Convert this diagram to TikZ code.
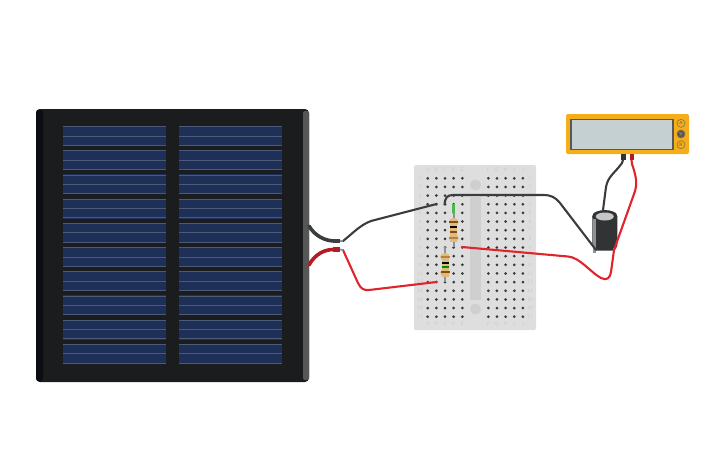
\documentclass[tikz,border=0pt]{standalone}
\usepackage{tikz}
\usetikzlibrary{positioning}
\definecolor{panelblack}{HTML}{1B1C1E}
\definecolor{paneledge}{HTML}{0C0D12}
\definecolor{panelside}{HTML}{555756}
\definecolor{cellblue}{HTML}{1F3058}
\definecolor{cellline}{HTML}{4C5A78}
\definecolor{boardgrey}{HTML}{DEDEDE}
\definecolor{stripgrey}{HTML}{CFCFCF}
\definecolor{labelgrey}{HTML}{CBCBCB}
\definecolor{holeblack}{HTML}{3A3A3A}
\definecolor{wirered}{HTML}{E0242B}
\definecolor{wireblack}{HTML}{3A3C3E}
\definecolor{cablered}{HTML}{B01E24}
\definecolor{meterorange}{HTML}{F5AE1A}
\definecolor{meterscreen}{HTML}{C5D0D3}
\definecolor{meterrim}{HTML}{55595B}
\definecolor{resbody}{HTML}{E0BC7C}
\definecolor{resbrown}{HTML}{8A4A12}
\definecolor{leadgrey}{HTML}{8E9296}
\tikzset{
  box/.style={rectangle, inner sep=0pt, draw=none},
  cell/.style={box, fill=cellblue, minimum width=103pt, minimum height=20pt},
  hole/.style={circle, fill=holeblack, inner sep=0pt, minimum size=3pt},
  boardtext/.style={font=\sffamily\fontsize{5}{5}\selectfont, text=labelgrey, inner sep=0pt},
  wire/.style={line width=2.1pt, line cap=round, line join=round},
  cable/.style={line width=3.6pt, line cap=round},
  lead/.style={line width=1.6pt, leadgrey},
  knob/.style={circle, draw=meterrim!70!meterorange, line width=0.6pt, minimum size=8pt, inner sep=0pt},
}
\begin{document}
\begin{tikzpicture}[x=1pt, y=-1pt]
  \useasboundingbox (0,0) rectangle (725,453);

  % solar panel
  \node[box, fill=panelblack, rounded corners=4pt, minimum width=273pt, minimum height=273pt] (panel) at (172.5,245.5) {};
  \fill[paneledge, rounded corners=3pt] (36,109.5) rectangle (43,381.5);
  \fill[panelside, rounded corners=2pt] (303,111) rectangle (309,380);
  \foreach \col in {114.5,230.5} {
    \foreach \row in {0,...,9} {
      \node[cell] (cell) at (\col,136+24.2*\row) {};
      \foreach \off in {-9.3,0,9.3}
        \draw[cellline, line width=1pt] ([yshift=\off pt]cell.west) -- ([yshift=\off pt]cell.east);
    }
  }

  % breadboard
  \node[box, fill=boardgrey, rounded corners=1.5pt, minimum width=122pt, minimum height=165pt] (board) at (475,247.5) {};
  \node[box, fill=stripgrey, minimum width=11pt, minimum height=103pt] (strip) at (475.5,248.5) {};
  \node[circle, fill=stripgrey, minimum size=11pt, inner sep=0pt] (nicktop) at (475.5,185) {};
  \node[circle, fill=stripgrey, minimum size=11pt, inner sep=0pt] (nickbot) at (475.5,309) {};
  \foreach \row in {1,...,17} {
    \foreach \col in {0,...,4} {
      \node[hole] (hl\col-\row) at (427.7+8.65*\col,169.65+8.65*\row) {};
      \node[hole] (hr\col-\row) at (488.3+8.65*\col,169.65+8.65*\row) {};
    }
    \node[boardtext] (numl\row) at (420,169.65+8.65*\row) {\row};
    \node[boardtext] (numr\row) at (530,169.65+8.65*\row) {\row};
  }
  \foreach \name [count=\i from 0] in {A,B,C,D,E} {
    \node[boardtext] (top\name) at (427.7+8.65*\i,170) {\name};
    \node[boardtext] (bot\name) at (427.7+8.65*\i,323.7) {\name};
  }
  \foreach \name [count=\i from 0] in {F,G,H,I,J} {
    \node[boardtext] (top\name) at (488.3+8.65*\i,170) {\name};
    \node[boardtext] (bot\name) at (488.3+8.65*\i,323.7) {\name};
  }

  % upper resistor
  \draw[lead] (453.7,217) -- (453.7,247);
  \draw[line width=3pt, green!60!black!70!white] (453.7,203.5) -- (453.7,213);
  \draw[lead] (453.7,213) -- (453.7,219);
  \node[box, fill=resbody, minimum width=7pt, minimum height=23pt] (res1) at (453.7,230) {};
  \fill[resbody] (453.7,222) ellipse (4.8pt and 4pt) (453.7,238) ellipse (4.8pt and 4pt);
  \fill[resbrown] (449.2,220.8) rectangle (458.2,222.8);
  \fill[black] (450.2,226.2) rectangle (457.2,228.2);
  \fill[resbrown] (450.2,230.8) rectangle (457.2,232.8);
  \fill[resbrown!50!resbody] (449.2,236.8) rectangle (458.2,238.8);

  % lower resistor
  \draw[lead] (445,246.5) -- (445,282);
  \node[box, fill=resbody, minimum width=7pt, minimum height=23pt] (res2) at (445,265) {};
  \fill[resbody] (445,257) ellipse (4.8pt and 4pt) (445,273) ellipse (4.8pt and 4pt);
  \fill[resbrown!50!resbody] (440.5,255.6) rectangle (449.5,257.6);
  \fill[black] (441.5,261.7) rectangle (448.5,263.7);
  \fill[green!55!black] (441.5,266.3) rectangle (448.5,268.3);
  \fill[resbrown] (440.5,271) rectangle (449.5,273);

  % multimeter
  \node[box, fill=meterorange, rounded corners=2pt, minimum width=123pt, minimum height=40pt] (meter) at (627.5,134) {};
  \node[box, fill=meterscreen, draw=meterrim, line width=1.8pt, minimum width=102pt, minimum height=30pt] (screen) at (621.7,134.5) {};
  \node[knob] (knobA) at (681,123.3) {};
  \node[knob, fill=meterrim] (knobV) at (681,134) {};
  \node[knob] (knobR) at (681,144.7) {};
  \node[font=\sffamily\fontsize{4.5}{4.5}\selectfont, text=meterrim, inner sep=0pt] at (knobA) {A};
  \node[font=\sffamily\fontsize{4.5}{4.5}\selectfont, text=meterorange, inner sep=0pt] at (knobV) {V};
  \node[font=\sffamily\fontsize{4.5}{4.5}\selectfont, text=meterrim, inner sep=0pt] at (knobR) {R};

  % capacitor
  \node[box, fill=wireblack!85!black, rounded corners=5pt, minimum width=25pt, minimum height=39pt] (cap) at (604.8,231) {};
  \fill[wireblack!85!black] (604.8,216.5) ellipse (12.5pt and 6.5pt);
  \fill[black!22] (604.8,216.5) ellipse (9pt and 4pt);
  \fill[leadgrey] (592.8,219) rectangle (596.3,253);
  \draw[lead] (613.5,248) -- (613.5,253);

  % connection points
  \coordinate (panelplus) at (309,265);
  \coordinate (panelminus) at (309,226);
  \coordinate (plugminus) at (343,241);
  \coordinate (plugplus) at (343,250);
  \coordinate (holeminus) at (436.5,204);
  \coordinate (holeplus) at (436.5,282);
  \coordinate (jumpstart) at (444.5,204.5);
  \coordinate (holeres) at (462,247);
  \coordinate (capneg) at (596,250);
  \coordinate (capneck) at (603,210);
  \coordinate (probeblack) at (623,160);
  \coordinate (probered) at (631.5,160);

  % wires
  \draw[wire, wireblack] (plugminus) .. controls (352,234) and (360,225) .. (371,221) -- (holeminus);
  \draw[wire, wirered] (plugplus) -- (358,283) .. controls (361,289) and (364,290.5) .. (369,290) -- (holeplus);
  \draw[wire, wireblack] (jumpstart) .. controls (445,198) and (447,195) .. (453,195) -- (543,195) .. controls (551,195) and (555,197) .. (560,203) -- (capneg);
  \draw[wire, wireblack] (capneck) -- (606,187) .. controls (608,176) and (615,173) .. (622,163) -- (probeblack);
  \draw[wire, wirered] (holeres) -- (568,256.5) .. controls (580,257.5) and (590,272) .. (601,278) .. controls (607,281) and (610,278) .. (611,272) -- (614,250) -- (634,194) .. controls (638,184) and (636,176) .. (632,164) -- (probered);

  % plugs and panel cables
  \draw[cable, wireblack] (panelminus) .. controls (315,236) and (325,241) .. (335,241);
  \draw[cable, cablered] (panelplus) .. controls (315,254) and (325,249) .. (335,249.5);
  \draw[line width=4.6pt, black!75] (333,241) -- (340,241);
  \draw[line width=4.6pt, cablered] (333,249.5) -- (340,249.5);
  \draw[line width=1.8pt, leadgrey] (340,241) -- (plugminus);
  \draw[line width=1.8pt, leadgrey] (340,249.5) -- (plugplus);

  % meter probes
  \fill[black!80] (621,154) rectangle (625.5,160);
  \fill[cablered] (629.5,154) rectangle (634,160);
\end{tikzpicture}
\end{document}
